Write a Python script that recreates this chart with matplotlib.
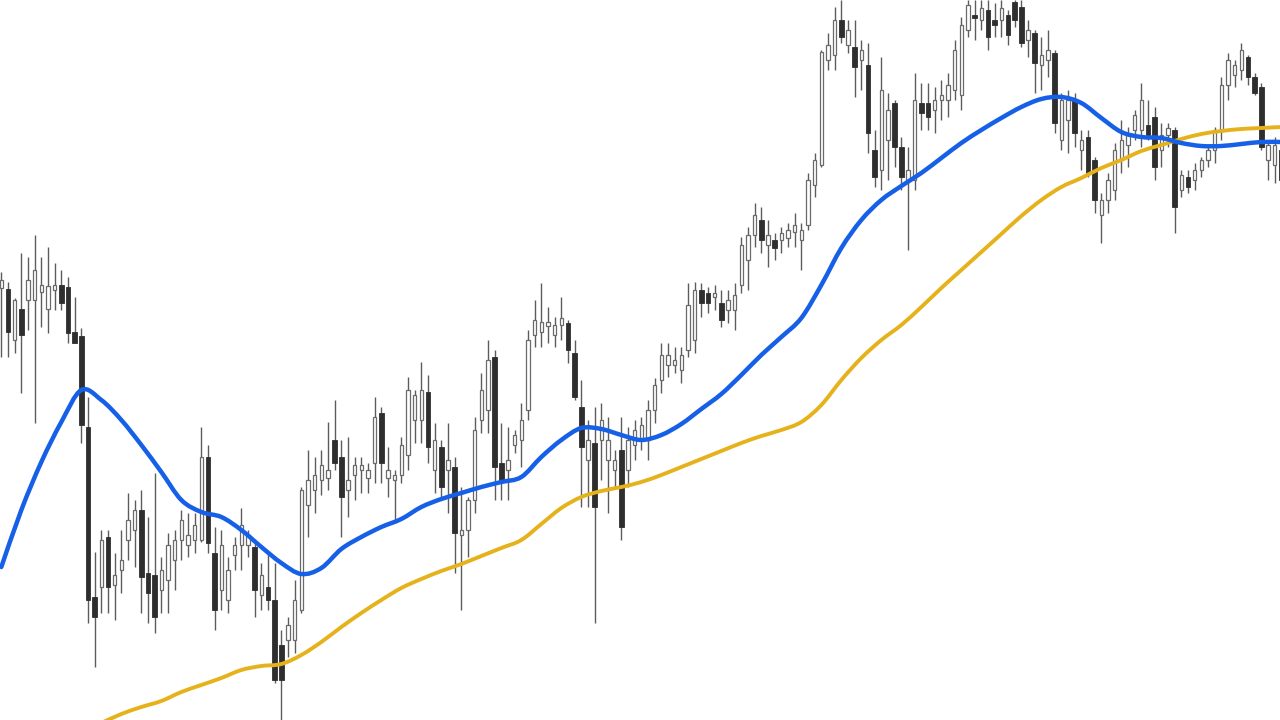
import numpy as np
import matplotlib.pyplot as plt
from matplotlib.path import Path
from matplotlib.patches import PathPatch

# OHLC per bar (index points)
opens = [1432, 1431, 1380, 1411, 1420, 1420, 1428, 1411, 1430, 1435,
         1433, 1388, 1384, 1293, 1123, 1133, 1183, 1135, 1150, 1180,
         1190, 1210, 1147, 1145, 1130, 1140, 1160, 1180, 1175, 1180,
         1180, 1263, 1167, 1130, 1120, 1165, 1175, 1175, 1173, 1125,
         1133, 1120, 1075, 1080, 1080, 1110, 1215, 1230, 1240, 1242,
         1280, 1263, 1230, 1245, 1250, 1242, 1257, 1307, 1242, 1240,
         1245, 1265, 1300, 1300, 1328, 1250, 1273, 1250, 1253, 1185,
         1190, 1220, 1300, 1310, 1363, 1257, 1250, 1275, 1280, 1310,
         1385, 1388, 1394, 1385, 1395, 1397, 1367, 1313, 1260, 1277,
         1280, 1260, 1250, 1270, 1250, 1275, 1280, 1280, 1310, 1340,
         1355, 1355, 1350, 1370, 1380, 1430, 1427, 1423, 1417, 1410,
         1410, 1435, 1460, 1485, 1500, 1475, 1480, 1480, 1482, 1488,
         1480, 1495, 1535, 1555, 1660, 1665, 1700, 1675, 1673, 1660,
         1655, 1570, 1550, 1580, 1617, 1573, 1540, 1540, 1617, 1617,
         1610, 1620, 1620, 1630, 1625, 1690, 1705, 1700, 1710, 1700,
         1700, 1705, 1718, 1713, 1680, 1687, 1655, 1660, 1667, 1580,
         1600, 1620, 1570, 1583, 1560, 1505, 1520, 1530, 1560, 1575,
         1590, 1590, 1595, 1603, 1570, 1585, 1590, 1530, 1543, 1540,
         1550, 1560, 1570, 1590, 1635, 1645, 1650, 1663, 1643, 1633,
         1560, 1555, 1570]

highs = [1448, 1438, 1422, 1467, 1463, 1485, 1463, 1473, 1457, 1450,
         1443, 1423, 1392, 1323, 1168, 1190, 1190, 1167, 1190, 1227,
         1220, 1230, 1203, 1247, 1163, 1187, 1190, 1210, 1207, 1207,
         1293, 1275, 1193, 1190, 1163, 1183, 1212, 1190, 1177, 1157,
         1167, 1157, 1090, 1103, 1140, 1233, 1270, 1263, 1270, 1298,
         1320, 1280, 1283, 1263, 1263, 1257, 1323, 1313, 1273, 1250,
         1283, 1343, 1330, 1358, 1345, 1297, 1280, 1297, 1263, 1233,
         1223, 1303, 1347, 1380, 1370, 1297, 1293, 1290, 1317, 1390,
         1420, 1437, 1413, 1403, 1423, 1400, 1380, 1340, 1300, 1313,
         1317, 1303, 1270, 1303, 1293, 1300, 1303, 1320, 1342, 1377,
         1377, 1373, 1373, 1437, 1438, 1437, 1433, 1435, 1430, 1430,
         1437, 1483, 1493, 1517, 1513, 1500, 1487, 1493, 1497, 1507,
         1497, 1547, 1567, 1670, 1687, 1713, 1720, 1700, 1700, 1680,
         1677, 1590, 1663, 1627, 1620, 1583, 1573, 1647, 1637, 1637,
         1633, 1640, 1647, 1680, 1703, 1720, 1720, 1720, 1720, 1717,
         1720, 1710, 1720, 1720, 1700, 1690, 1683, 1690, 1670, 1627,
         1630, 1627, 1590, 1590, 1563, 1527, 1547, 1577, 1600, 1593,
         1610, 1637, 1620, 1613, 1597, 1597, 1593, 1550, 1550, 1557,
         1563, 1573, 1593, 1643, 1667, 1660, 1677, 1665, 1647, 1637,
         1580, 1583, 1573]

lows = [1363, 1363, 1367, 1327, 1390, 1297, 1393, 1387, 1410, 1410,
        1377, 1377, 1277, 1097, 1053, 1107, 1107, 1100, 1127, 1160,
        1153, 1107, 1097, 1087, 1107, 1107, 1130, 1160, 1163, 1167,
        1178, 1167, 1090, 1110, 1107, 1150, 1150, 1163, 1103, 1110,
        1110, 1037, 997, 1063, 1067, 1107, 1183, 1207, 1225, 1230,
        1250, 1183, 1203, 1220, 1227, 1227, 1237, 1237, 1223, 1200,
        1237, 1250, 1277, 1277, 1257, 1227, 1223, 1207, 1147, 1110,
        1163, 1207, 1287, 1287, 1220, 1220, 1220, 1267, 1253, 1300,
        1373, 1373, 1377, 1373, 1380, 1357, 1320, 1213, 1213, 1097,
        1240, 1207, 1233, 1180, 1233, 1260, 1270, 1260, 1297, 1327,
        1343, 1347, 1337, 1363, 1367, 1403, 1407, 1410, 1393, 1397,
        1390, 1427, 1430, 1473, 1467, 1453, 1460, 1467, 1473, 1473,
        1450, 1490, 1523, 1553, 1650, 1650, 1677, 1667, 1623, 1630,
        1567, 1533, 1530, 1540, 1553, 1530, 1470, 1530, 1590, 1590,
        1587, 1600, 1603, 1620, 1610, 1683, 1680, 1690, 1670, 1683,
        1683, 1675, 1693, 1673, 1663, 1627, 1630, 1643, 1587, 1570,
        1567, 1573, 1550, 1543, 1507, 1477, 1507, 1520, 1547, 1553,
        1580, 1573, 1580, 1540, 1553, 1573, 1487, 1523, 1527, 1530,
        1543, 1553, 1557, 1580, 1620, 1633, 1640, 1635, 1625, 1570,
        1540, 1537, 1533]

closes = [1440, 1388, 1420, 1385, 1440, 1450, 1435, 1434, 1435, 1417,
          1387, 1377, 1295, 1120, 1103, 1180, 1133, 1145, 1160, 1200,
          1210, 1143, 1127, 1103, 1150, 1175, 1180, 1200, 1185, 1195,
          1263, 1177, 1110, 1175, 1150, 1175, 1195, 1185, 1130, 1145,
          1120, 1040, 1040, 1095, 1120, 1230, 1240, 1245, 1255, 1250,
          1257, 1223, 1240, 1255, 1255, 1250, 1303, 1257, 1250, 1245,
          1275, 1330, 1325, 1330, 1273, 1280, 1233, 1260, 1187, 1190,
          1220, 1290, 1330, 1360, 1253, 1240, 1260, 1285, 1300, 1380,
          1400, 1398, 1398, 1395, 1402, 1370, 1323, 1273, 1280, 1213,
          1300, 1280, 1260, 1193, 1280, 1290, 1295, 1310, 1335, 1365,
          1365, 1360, 1365, 1415, 1430, 1417, 1417, 1427, 1400, 1420,
          1425, 1475, 1485, 1505, 1480, 1485, 1472, 1487, 1490, 1495,
          1490, 1540, 1560, 1668, 1675, 1700, 1683, 1690, 1653, 1670,
          1587, 1543, 1630, 1610, 1573, 1543, 1550, 1620, 1607, 1603,
          1620, 1625, 1635, 1670, 1695, 1715, 1702, 1712, 1683, 1695,
          1712, 1685, 1700, 1677, 1690, 1657, 1665, 1670, 1597, 1620,
          1620, 1587, 1580, 1547, 1520, 1520, 1540, 1570, 1580, 1585,
          1605, 1620, 1585, 1553, 1585, 1592, 1513, 1545, 1533, 1550,
          1560, 1570, 1590, 1635, 1660, 1655, 1670, 1643, 1627, 1573,
          1575, 1575, 1540]

# moving averages, one reading every 3 bars
ma_step = 3
ma_fast = [1153, 1210, 1258, 1298, 1330, 1320, 1300, 1275, 1248, 1220,
           1208, 1203, 1190, 1173, 1157, 1146, 1152, 1171, 1183, 1193,
           1201, 1213, 1221, 1227, 1233, 1238, 1243, 1263, 1280, 1292,
           1291, 1285, 1280, 1285, 1296, 1311, 1326, 1345, 1365, 1383,
           1402, 1435, 1472, 1500, 1520, 1534, 1547, 1562, 1577, 1590,
           1602, 1613, 1621, 1623, 1617, 1602, 1588, 1583, 1582, 1577,
           1574, 1574, 1576, 1578, 1578]
slow_first_bar = 15
ma_slow = [997, 1006, 1013, 1019, 1028, 1035, 1042, 1050, 1054, 1056,
           1065, 1078, 1093, 1107, 1120, 1132, 1141, 1149, 1156, 1164,
           1172, 1180, 1196, 1212, 1223, 1229, 1233, 1238, 1245, 1253,
           1261, 1269, 1277, 1284, 1290, 1298, 1315, 1340, 1362, 1380,
           1395, 1413, 1432, 1450, 1468, 1486, 1504, 1520, 1533, 1542,
           1552, 1560, 1569, 1575, 1581, 1586, 1589, 1591, 1592, 1593]


def spline_path(xs, ys):
    # smooth line through the readings (bezier segments, catmull-rom handles)
    pts = np.column_stack([xs, ys]).astype(float)
    verts = [pts[0]]
    codes = [Path.MOVETO]
    n = len(pts)
    for i in range(n - 1):
        p0 = pts[max(i - 1, 0)]
        p1 = pts[i]
        p2 = pts[i + 1]
        p3 = pts[min(i + 2, n - 1)]
        verts += [p1 + (p2 - p0) / 6, p2 - (p3 - p1) / 6, p2]
        codes += [Path.CURVE4] * 3
    return Path(verts, codes)


o = np.array(opens)
h = np.array(highs)
l = np.array(lows)
c = np.array(closes)
x = np.arange(len(o))
up = c >= o

fig = plt.figure(figsize=(12.8, 7.2), dpi=100)
ax = fig.add_axes([0, 0, 1, 1])

# wicks
ax.vlines(x, l, h, color='#5c5c5c', lw=1.0, zorder=1)
# bull bodies hollow, bear bodies filled
ax.bar(x[up], (c - o)[up], bottom=o[up], width=0.5, color='white',
       edgecolor='#6a6a6a', lw=0.9, zorder=2)
ax.bar(x[~up], (o - c)[~up], bottom=c[~up], width=0.68, color='#2e2e2e',
       edgecolor='#2e2e2e', lw=0.6, zorder=2)

# moving averages
slow_x = np.arange(len(ma_slow)) * ma_step + slow_first_bar
ax.add_patch(PathPatch(spline_path(slow_x, ma_slow), fill=False,
                       edgecolor='#e6b21c', lw=2.8, capstyle='round', zorder=3))
fast_x = np.arange(len(ma_fast)) * ma_step
ax.add_patch(PathPatch(spline_path(fast_x, ma_fast), fill=False,
                       edgecolor='#1660e8', lw=3.2, capstyle='round', zorder=4))

ax.set_xlim(-0.2, 191.8)
ax.set_ylim(1000, 1720)
ax.axis('off')

fig.savefig('out.png', dpi=100)
